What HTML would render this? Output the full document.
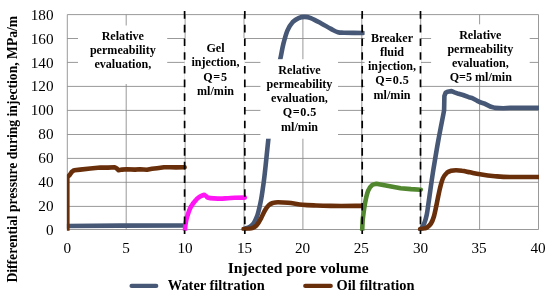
<!DOCTYPE html>
<html><head><meta charset="utf-8"><title>Chart</title>
<style>
html,body{margin:0;padding:0;background:#fff;}
svg{display:block}
text{font-family:"Liberation Serif","Times New Roman",serif;fill:#000}
.b{font-weight:bold}
.t{font-size:15.2px}
.bx{font-size:12.1px;font-weight:bold;text-anchor:middle}
</style></head><body>
<svg width="550" height="297" viewBox="0 0 550 297">
<rect width="550" height="297" fill="#fff"/>
<defs><clipPath id="pc"><rect x="66.9" y="0" width="472.1" height="230.8"/></clipPath></defs>
<!-- grid -->
<g stroke="#878787" stroke-width="0.85" fill="none">
<path d="M67.3 14.6H538.5M67.3 38.5H538.5M67.3 62.4H538.5M67.3 86.4H538.5M67.3 110.4H538.5M67.3 134.5H538.5M67.3 158.4H538.5M67.3 182.3H538.5M67.3 206.4H538.5M67.3 229.5H538.5"/>
<path d="M67.3 14.6V229.5M126.2 14.6V229.5M185.1 14.6V229.5M244.0 14.6V229.5M302.9 14.6V229.5M361.8 14.6V229.5M420.7 14.6V229.5M479.6 14.6V229.5M538.5 14.6V229.5"/>
</g>
<!-- series -->
<g fill="none" stroke-width="4.6" stroke-linecap="round" stroke-linejoin="round" clip-path="url(#pc)">
<path stroke="#465876" d="M67.3 226.0L120.0 225.6L184.6 225.5"/>
<path stroke="#692E0A" d="M67.3 230.0L67.3 177.3L69.5 175.2L71.5 172.2L74.2 170.2L80.2 169.6L90.3 168.5L100.4 167.5L108.0 167.6L114.6 167.3L116.5 168.3L118.6 170.2L122.0 169.6L126.7 169.2L135.0 169.6L140.0 169.2L147.0 169.7L152.0 168.8L157.0 168.2L164.0 167.3L170.2 167.2L176.0 167.4L184.6 167.2"/>
<path stroke="#FF14F4" d="M185.0 229.8C185.1 228.9 185.3 226.1 185.5 224.5C185.7 222.9 185.8 222.2 186.2 220.4C186.6 218.6 187.4 215.8 188.2 213.4C189.0 211.1 189.8 208.6 191.2 206.3C192.5 204.0 194.8 201.2 196.3 199.6C197.8 197.9 199.0 197.2 200.3 196.4C201.6 195.6 203.4 195.0 204.0 194.7C204.3 194.9 205.3 195.5 206.0 196.0C206.7 196.5 207.1 197.4 208.4 197.8C209.7 198.2 212.0 198.3 214.0 198.4C216.0 198.5 218.3 198.6 220.6 198.6C222.9 198.6 225.7 198.3 228.0 198.2C230.3 198.1 231.9 197.9 234.7 197.8C237.5 197.7 243.1 197.6 244.8 197.6"/>
<path stroke="#465876" d="M245.2 228.6C245.7 228.4 247.1 228.0 248.0 227.6C248.9 227.2 249.9 226.9 250.9 226.1C251.9 225.3 252.9 224.5 253.9 222.9C254.9 221.3 256.1 218.7 257.0 216.4C257.9 214.1 258.3 212.0 259.0 209.3C259.7 206.6 260.4 203.4 261.0 200.2C261.6 197.0 262.1 193.5 262.6 190.1C263.1 186.7 263.4 184.7 264.0 180.0C264.6 175.3 265.3 168.9 266.0 162.0C266.7 155.1 267.4 148.2 268.4 138.7C269.4 129.2 270.7 115.1 272.0 105.0C273.3 94.9 274.6 85.7 276.0 78.0C277.4 70.3 279.1 64.4 280.4 58.6C281.6 52.8 282.3 48.1 283.5 43.4C284.7 38.7 286.0 33.8 287.5 30.3C289.0 26.8 290.8 24.2 292.6 22.2C294.5 20.2 296.6 19.0 298.6 18.1C300.6 17.2 302.7 16.9 304.7 16.9C306.7 16.9 308.1 17.1 310.8 18.1C313.5 19.2 317.5 21.4 320.9 23.2C324.3 25.0 328.1 27.4 331.0 28.9C333.9 30.4 335.8 31.6 338.0 32.2C340.2 32.8 339.8 32.6 344.0 32.7C348.2 32.8 360.0 33.0 363.2 33.0"/>
<path stroke="#692E0A" d="M243.6 229.1C244.8 229.0 249.2 228.8 250.9 228.5C252.6 228.2 253.0 227.8 254.0 227.2C255.0 226.6 255.8 226.4 257.0 224.9C258.2 223.4 259.7 220.8 261.0 218.4C262.3 216.0 263.6 212.6 265.0 210.3C266.4 208.1 267.8 206.1 269.1 204.9C270.5 203.7 271.6 203.4 273.1 202.9C274.6 202.4 275.5 202.2 278.0 202.2C280.5 202.2 284.1 202.3 288.2 202.7C292.3 203.1 297.8 204.2 302.4 204.7C307.0 205.2 311.3 205.3 316.0 205.5C320.7 205.7 323.0 205.8 330.7 205.9C338.4 206.0 356.8 205.9 362.0 205.9"/>
<path stroke="#50872F" d="M362.2 230.0C362.3 228.5 362.5 223.2 362.6 221.0C362.8 218.8 362.7 219.6 363.1 216.5C363.5 213.4 364.4 206.7 365.2 202.4C366.0 198.1 367.0 193.5 368.2 190.6C369.4 187.7 370.8 186.1 372.2 185.0C373.6 183.9 375.6 184.0 376.3 183.8L384.4 185.2L400.6 188.2L411.0 189.1L420.8 189.7"/>
<path stroke="#465876" d="M420.6 229.5C421.1 228.7 422.8 227.1 423.8 224.6C424.8 222.1 426.0 218.6 426.8 214.5C427.6 210.4 428.2 205.0 428.9 200.3C429.6 195.6 430.2 191.2 430.9 186.2C431.6 181.1 432.1 177.7 433.3 170.0C434.6 162.3 436.6 149.9 438.4 140.0C440.2 130.1 443.2 115.2 444.1 110.3L444.4 96.0L445.6 92.8L447.5 91.7L451.6 91.1L454.5 92.3L458.6 93.8L463.0 95.0L468.8 97.2L472.0 98.0L476.8 100.6L480.9 102.6L484.0 103.4L487.0 104.9L491.0 106.8L495.0 107.9L503.2 108.3L510.0 107.9L539.0 107.9"/>
<path stroke="#692E0A" d="M420.2 229.1C420.8 229.0 422.9 228.8 424.0 228.6C425.1 228.3 425.7 228.4 426.8 227.6C427.9 226.8 429.7 225.4 430.9 223.6C432.1 221.8 432.9 220.0 433.9 216.5C434.9 213.0 436.0 207.1 437.0 202.4C438.0 197.7 439.0 192.2 440.0 188.2C441.0 184.1 441.8 180.7 443.0 178.1C444.2 175.5 445.8 173.8 447.1 172.6C448.5 171.4 449.6 171.1 451.1 170.7C452.6 170.3 454.2 170.2 456.0 170.2C457.8 170.2 459.7 170.3 462.0 170.7C464.3 171.0 467.0 171.7 470.0 172.3C473.0 172.9 475.8 173.7 480.0 174.3C484.2 175.0 490.0 175.8 495.0 176.2C500.0 176.6 502.7 176.9 510.0 177.0C517.3 177.1 534.2 177.0 539.0 177.0"/>
</g>
<!-- text boxes -->
<g fill="#fff">
<rect x="78" y="25.5" width="89.2" height="58.5"/>
<rect x="184.6" y="38" width="60.2" height="95"/>
<rect x="260.4" y="59.2" width="77.6" height="79.5"/>
<rect x="364.6" y="28" width="56.4" height="104"/>
<rect x="431.1" y="24.3" width="98.6" height="49"/>
</g>
<!-- dashed separators -->
<g stroke="#000" stroke-width="1.7" stroke-dasharray="7.6 6.1" fill="none">
<path d="M184.6 11.1V234.1M244.8 11.1V234.1M362.2 11.1V234.1M420.5 11.1V234.1"/>
</g>
<g class="bx">
<text x="122.8" y="40.1">Relative</text><text x="122.8" y="54.1">permeability</text><text x="122.8" y="68.1">evaluation,</text>
<text x="215.5" y="51.8">Gel</text><text x="215.5" y="65.8">injection,</text><text x="215.5" y="80.8" letter-spacing="0.8">Q=5</text><text x="215.5" y="95.4">ml/min</text>
<text x="299.5" y="73.8">Relative</text><text x="299.5" y="87.8">permeability</text><text x="299.5" y="102">evaluation,</text><text x="299.8" y="116.2" letter-spacing="0.5">Q=0.5</text><text x="299.5" y="130.9">ml/min</text>
<text x="392" y="41.7">Breaker</text><text x="392" y="55.9">fluid</text><text x="392" y="70.2">injection,</text><text x="392.3" y="84.4" letter-spacing="0.5">Q=0.5</text><text x="392" y="98.8">ml/min</text>
<text x="480.3" y="38.8">Relative</text><text x="480.3" y="52.6">permeability</text><text x="480.3" y="66.6">evaluation,</text><text x="480.8" y="81.2">Q=5 ml/min</text>
</g>
<!-- y ticks -->
<g class="t" text-anchor="end">
<text x="53.5" y="19.8">180</text><text x="53.5" y="43.7">160</text><text x="53.5" y="67.5">140</text><text x="53.5" y="91.4">120</text><text x="53.5" y="115.2">100</text><text x="53.5" y="139.1">80</text><text x="53.5" y="162.9">60</text><text x="53.5" y="186.8">40</text><text x="53.5" y="210.6">20</text><text x="53.5" y="234.5">0</text>
</g>
<g class="t" text-anchor="middle">
<text x="67.4" y="253.3">0</text><text x="126" y="253.3">5</text><text x="185" y="253.3">10</text><text x="244.5" y="253.3">15</text><text x="302.5" y="253.3">20</text><text x="361.3" y="253.3">25</text><text x="420.6" y="253.3">30</text><text x="479" y="253.3">35</text><text x="538" y="253.3">40</text>
</g>
<text class="b" font-size="15.6" x="227.8" y="273.4">Injected pore volume</text>
<text class="b" font-size="13.63" transform="translate(17.3 282.6) rotate(-90)">Differential pressure during injection, MPa/m</text>
<g fill="none" stroke-width="4.3" stroke-linecap="round">
<path stroke="#465876" d="M131.6 285.9H156.2"/>
<path stroke="#692E0A" d="M305.3 285.9H330.7"/>
</g>
<text class="b" font-size="14.4" x="167.8" y="289.7">Water filtration</text>
<text class="b" font-size="14.4" x="336.6" y="289.7">Oil filtration</text>
</svg>
</body></html>
